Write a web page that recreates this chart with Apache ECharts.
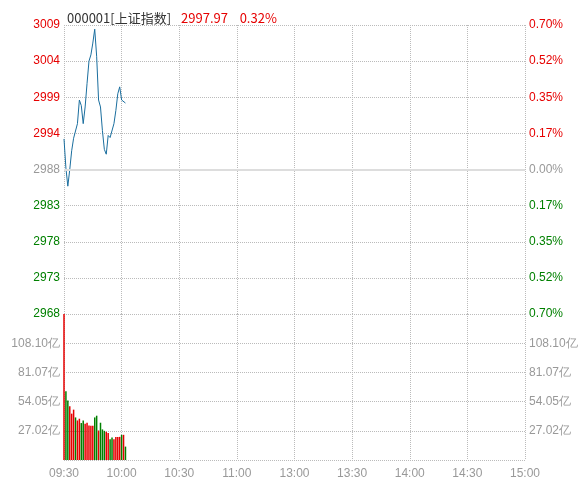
<!DOCTYPE html>
<html><head><meta charset="utf-8">
<script src="https://cdn.jsdelivr.net/npm/echarts@6/dist/echarts.min.js"></script>
<style>html,body{margin:0;padding:0;background:#fff}#c{width:583px;height:486px}</style>
</head><body><div id="c"></div>
<script>
const timeLabels = ['09:30','10:00','10:30','11:00','13:00','13:30','14:00','14:30','15:00'];
const prices = [2992.8,2988.6,2986.0,2988.4,2991.1,2992.9,2992.8,2995.0,2998.4,2997.6,2995.0,2997.4,3000.8,3004.0,3004.9,3006.6,3008.6,3004.7,2998.4,2997.4,2994.0,2991.3,2990.6,2993.3,2993.0,2993.0,2995.0,2996.9,2999.3,3000.3,2998.4,2998.2,2997.97];
const volumes = [135.1,63.7,55.0,49.7,42.9,46.6,39.4,36.6,38.2,34.2,36.6,33.5,34.5,32.0,31.7,31.7,39.4,41.0,27.3,34.5,28.3,27.0,26.1,25.0,19.3,20.8,19.3,21.4,21.4,21.4,23.3,23.3,12.4];
const volUp = [1,0,0,1,1,1,0,1,1,0,0,1,1,1,1,1,0,0,1,0,0,0,1,1,0,0,1,1,1,1,0,1,0];
const prevClose = 2988.4, step = 5.2;
const RED='#e60000', GREEN='#008000', GRAY='#999';
const lineData = prices.map((v,i)=>[i,v]);
const barData = volumes.map((v,i)=>({value:[i,v],itemStyle:{color:volUp[i]?RED:GREEN}}));
const pc = v => {const d=v-prevClose; return Math.abs(d)<0.01?GRAY:(d>0?RED:GREEN);};
const xBase = {type:'value',min:0,max:240,interval:30,axisTick:{show:false},
  splitLine:{show:true,lineStyle:{type:'dotted',color:'#bbb'}},axisLine:{show:false}};
const ch = echarts.init(document.getElementById('c'));
ch.setOption({
  animation:false,
  title:{text:'{a|000001[上证指数]}  {b|2997.97    0.32%}',left:62,top:4,
    textStyle:{fontWeight:'normal',rich:{a:{color:'#333',fontSize:13,fontWeight:'normal',fontFamily:'Noto Sans CJK SC'},b:{color:RED,fontSize:13,fontWeight:'normal',fontFamily:'Noto Sans CJK SC'}}}},
  grid:[{left:64,right:58,top:25,height:289},{left:64,right:58,top:314,height:146}],
  xAxis:[Object.assign({gridIndex:0,axisLabel:{show:false}},xBase),
    Object.assign({gridIndex:1,axisLabel:{color:GRAY,fontSize:12,margin:8,formatter:v=>timeLabels[v/30]}},xBase)],
  yAxis:[
    {gridIndex:0,min:prevClose-4*step,max:prevClose+4*step,interval:step,
     axisLine:{show:false},axisTick:{show:false},
     splitLine:{lineStyle:{type:'dotted',color:'#bbb'}},
     axisLabel:{fontSize:12,margin:4,formatter:v=>Math.round(v)+'',color:v=>pc(v)}},
    {gridIndex:0,position:'right',min:prevClose-4*step,max:prevClose+4*step,interval:step,
     axisLine:{show:false},axisTick:{show:false},splitLine:{show:false},
     axisLabel:{fontSize:12,margin:4,formatter:v=>(Math.abs(v-prevClose)/prevClose*100).toFixed(2)+'%',color:v=>pc(v)}},
    {gridIndex:1,min:0,max:135.12,interval:27.024,
     axisLine:{show:false},axisTick:{show:false},
     splitLine:{lineStyle:{type:'dotted',color:'#bbb'}},
     axisLabel:{fontSize:12,margin:4,color:GRAY,showMinLabel:false,showMaxLabel:false,formatter:v=>v.toFixed(2)+'亿'}},
    {gridIndex:1,position:'right',min:0,max:135.12,interval:27.024,
     axisLine:{show:false},axisTick:{show:false},splitLine:{show:false},
     axisLabel:{fontSize:12,margin:4,color:GRAY,showMinLabel:false,showMaxLabel:false,formatter:v=>v.toFixed(2)+'亿'}}
  ],
  series:[
    {type:'line',xAxisIndex:0,yAxisIndex:0,data:lineData,symbol:'none',
     lineStyle:{color:'#1a6e9e',width:1},
     markLine:{silent:true,symbol:'none',label:{show:false},lineStyle:{color:'#ddd',type:'solid',width:2},data:[{yAxis:prevClose}]}},
    {type:'bar',xAxisIndex:1,yAxisIndex:2,data:barData,barWidth:1.5}
  ]
});
</script></body></html>
